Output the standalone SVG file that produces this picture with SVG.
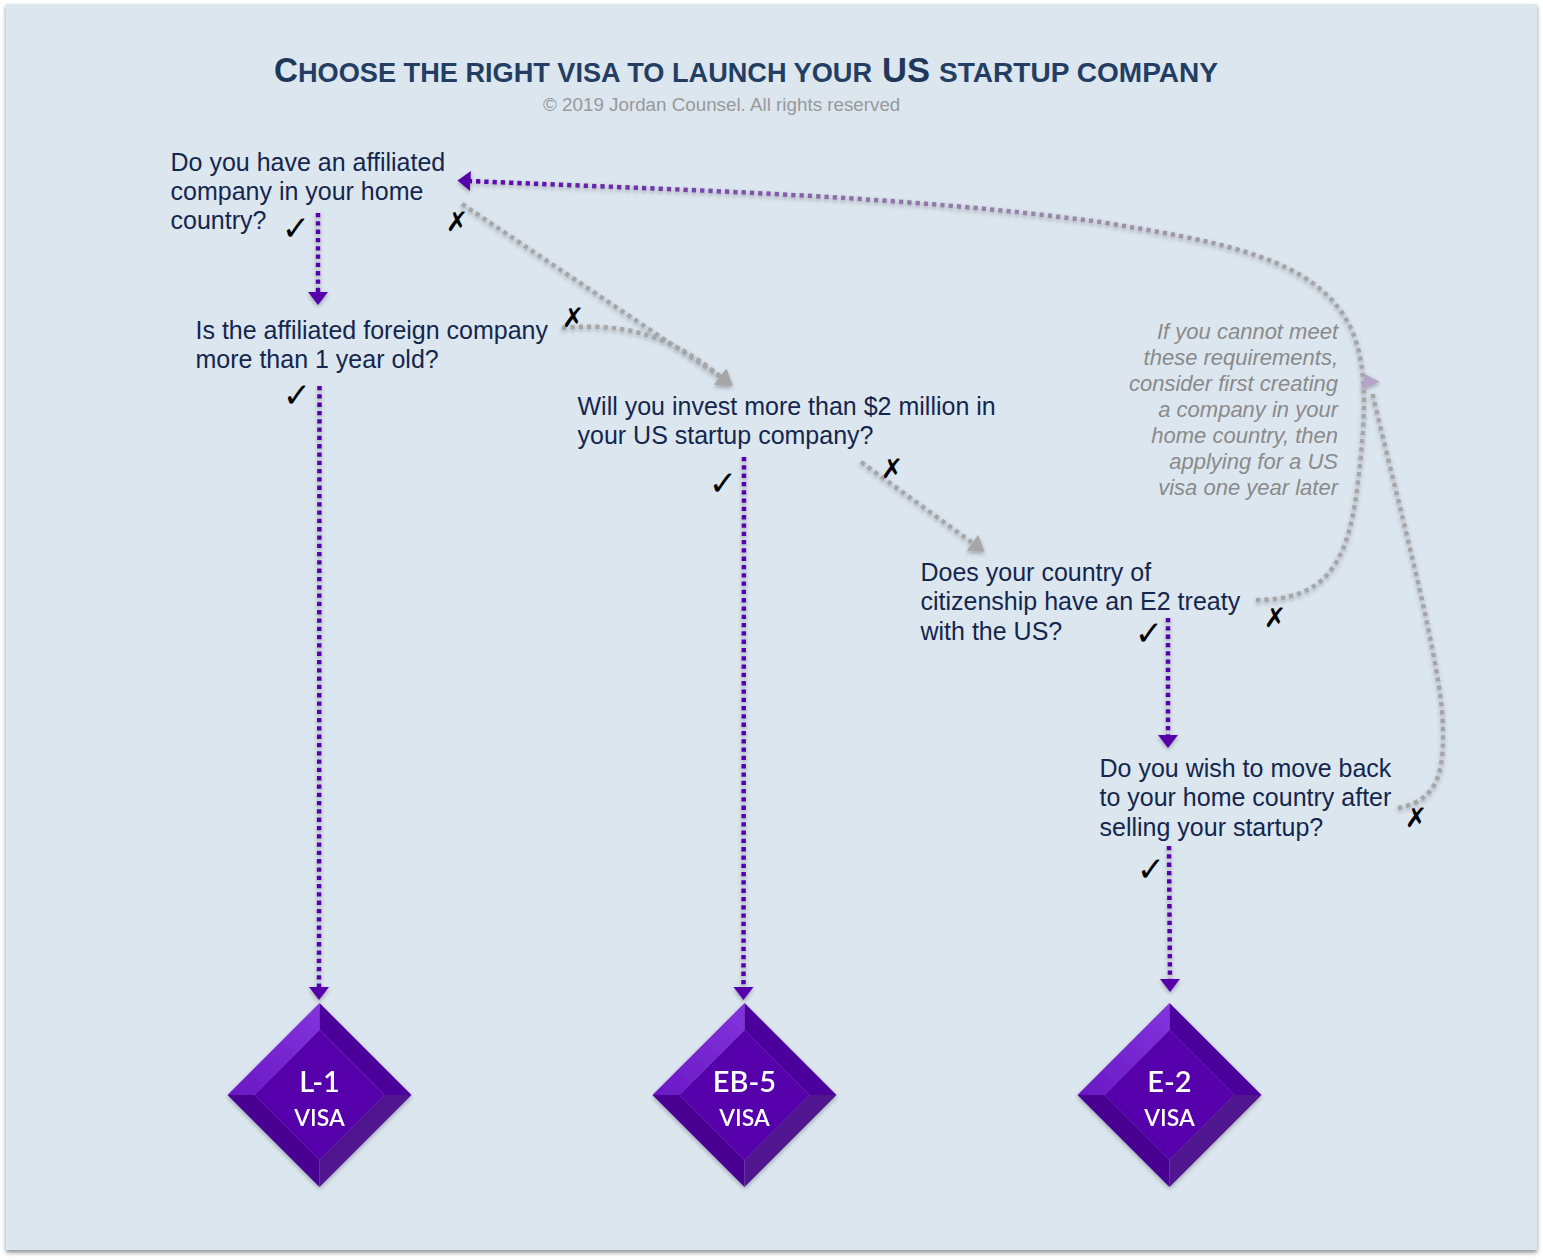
<svg xmlns="http://www.w3.org/2000/svg" width="1543" height="1260" viewBox="0 0 1543 1260">
<style>
text{font-family:"Liberation Sans",Arial,sans-serif}
.q{font-size:25px;fill:#14264d;transform:translate(-0.5px,0.6px)}
.title{font-weight:bold;font-size:27.5px;fill:#243e63}
.big{font-size:35px;fill:#1f3759}
.copy{font-size:18.800px;fill:#999}
.note{font-size:22px;font-style:italic;fill:#8a8a8a;text-anchor:end}
.yes,.no{font-family:"DejaVu Sans",sans-serif;fill:#000;text-anchor:middle}
.yes{font-size:34px}
.no{font-size:27px}
.conn{fill:none;stroke-width:4.500;stroke-dasharray:4.300 4}
.p{stroke:#5500aa}
.g{stroke:#a6a6a6}
.dl{font-family:Lato,sans-serif;fill:#fff;text-anchor:middle;font-size:29px;font-weight:600}
.ds{font-family:Lato,sans-serif;fill:#fff;text-anchor:middle;font-size:23px;font-weight:600}
.inner{fill:#5500aa}
.ft{fill:url(#tl)}
.tr{fill:#4c009c}
.bl{fill:#480092}
.br{fill:#4f168f}
</style>
<defs>
<filter id="sh" x="-10%" y="-10%" width="120%" height="120%"><feDropShadow dx="0" dy="2" stdDeviation="2" flood-color="#000" flood-opacity="0.3"/></filter>
<filter id="bg" x="-2%" y="-2%" width="104%" height="104%"><feDropShadow dx="0" dy="2.500" stdDeviation="2" flood-color="#000" flood-opacity="0.45"/></filter>
<linearGradient id="tl" x1="0" y1="1" x2="1" y2="0"><stop offset="0" stop-color="#6a18c4"/><stop offset="1" stop-color="#8234dc"/></linearGradient>
<linearGradient id="fade" gradientUnits="userSpaceOnUse" x1="1300" y1="300" x2="460" y2="181"><stop offset="0" stop-color="#a6a6a6"/><stop offset="0.55" stop-color="#8d6fa8"/><stop offset="1" stop-color="#5500aa"/></linearGradient>
<marker id="ap" markerUnits="userSpaceOnUse" markerWidth="16" markerHeight="24" refX="2" refY="10" orient="auto" viewBox="0 0 16 20"><path d="M0 0L13 10L0 20Z" fill="#5500aa"/></marker>
<marker id="ag" markerUnits="userSpaceOnUse" markerWidth="18" markerHeight="24" refX="2" refY="10" orient="auto" viewBox="0 0 18 20"><path d="M0 0L15 10L0 20Z" fill="#a6a6a6"/></marker>
<g id="diamond">
<path class="ft" d="M0-92L-92 0H-65L0-65Z"/>
<path class="tr" d="M0-92L92 0H65L0-65Z"/>
<path class="bl" d="M0 92L-92 0H-65L0 65Z"/>
<path class="br" d="M0 92L92 0H65L0 65Z"/>
<path class="inner" d="M0-65L65 0L0 65L-65 0Z"/>
</g>
</defs>
<rect width="1543" height="1260" fill="#fff"/>
<rect x="6" y="4" width="1531" height="1246" fill="#dce6ef" filter="url(#bg)"/>
<g id="title">
<text class="title" y="82"><tspan class="big" x="274" textLength="24" lengthAdjust="spacingAndGlyphs">C</tspan><tspan x="298" textLength="574" lengthAdjust="spacingAndGlyphs">HOOSE THE RIGHT VISA TO LAUNCH YOUR</tspan> <tspan class="big" x="882" textLength="48" lengthAdjust="spacingAndGlyphs">US</tspan> <tspan x="939" textLength="279" lengthAdjust="spacingAndGlyphs">STARTUP COMPANY</tspan></text>
<text class="copy" x="543" y="111">© 2019 Jordan Counsel. All rights reserved</text>
</g>
<g id="connectors" filter="url(#sh)">
<path class="conn p" d="M318 213V294" marker-end="url(#ap)"/>
<path class="conn p" d="M319.500 386L319 989" marker-end="url(#ap)"/>
<path class="conn p" d="M744 457L743.500 989" marker-end="url(#ap)"/>
<path class="conn p" d="M1168 618V737" marker-end="url(#ap)"/>
<path class="conn p" d="M1169 846L1170 981" marker-end="url(#ap)"/>
<path class="conn g" d="M462 204L722 378" marker-end="url(#ag)"/>
<path class="conn g" d="M562 328C625 322 672 336 722 378" marker-end="url(#ag)"/>
<path class="conn g" d="M861 462L974 544" marker-end="url(#ag)"/>
<path class="conn" stroke="url(#fade)" d="M1256 600C1325 600 1347 565 1357 490C1367 410 1370 350 1340 310C1300 255 1210 240 1100 222C900 195 680 190 468.500 181" marker-end="url(#ap)"/>
<path class="conn g" d="M1398 808C1440 800 1446 770 1442 710C1435 640 1400 510 1372 392"/>
<polygon points="1380,382 1365,374 1361,389" fill="#b5a3c8"/>
</g>
<g id="q1">
<text class="q" x="171" y="170">Do you have an affiliated</text>
<text class="q" x="171" y="199">company in your home</text>
<text class="q" x="171" y="228">country?</text>
<text class="yes" x="296" y="240">✓</text>
<text class="no" x="457" y="231">✗</text>
</g>
<g id="q2">
<text class="q" x="196" y="338">Is the affiliated foreign company</text>
<text class="q" x="196" y="367">more than 1 year old?</text>
<text class="yes" x="297" y="407">✓</text>
<text class="no" x="573" y="327">✗</text>
</g>
<g id="q3">
<text class="q" x="578" y="414">Will you invest more than $2 million in</text>
<text class="q" x="578" y="443">your US startup company?</text>
<text class="yes" x="723" y="495">✓</text>
<text class="no" x="892" y="478">✗</text>
</g>
<g id="q4">
<text class="q" x="921" y="580">Does your country of</text>
<text class="q" x="921" y="609">citizenship have an E2 treaty</text>
<text class="q" x="921" y="639">with the US?</text>
<text class="yes" x="1149" y="645">✓</text>
<text class="no" x="1275" y="627">✗</text>
</g>
<g id="q5">
<text class="q" x="1100" y="776">Do you wish to move back</text>
<text class="q" x="1100" y="805">to your home country after</text>
<text class="q" x="1100" y="835">selling your startup?</text>
<text class="yes" x="1151" y="881">✓</text>
<text class="no" x="1416" y="827">✗</text>
</g>
<g id="note">
<text class="note" x="1338" y="339">If you cannot meet</text>
<text class="note" x="1338" y="365">these requirements,</text>
<text class="note" x="1338" y="391">consider first creating</text>
<text class="note" x="1338" y="417">a company in your</text>
<text class="note" x="1338" y="443">home country, then</text>
<text class="note" x="1338" y="469">applying for a US</text>
<text class="note" x="1338" y="495">visa one year later</text>
</g>
<g id="l1" filter="url(#sh)">
<use href="#diamond" x="319.500" y="1095"/>
<text class="dl" x="319.500" y="1092">L-1</text>
<text class="ds" x="319.500" y="1126">VISA</text>
</g>
<g id="eb5" filter="url(#sh)">
<use href="#diamond" x="744.500" y="1095"/>
<text class="dl" x="744.500" y="1092">EB-5</text>
<text class="ds" x="744.500" y="1126">VISA</text>
</g>
<g id="e2" filter="url(#sh)">
<use href="#diamond" x="1169.500" y="1095"/>
<text class="dl" x="1169.500" y="1092">E-2</text>
<text class="ds" x="1169.500" y="1126">VISA</text>
</g>
</svg>
